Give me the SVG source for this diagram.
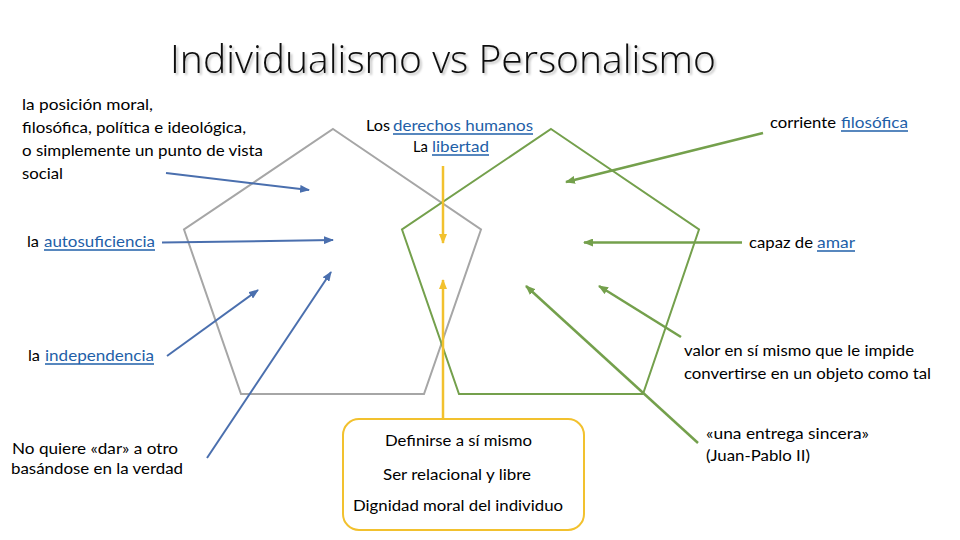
<svg xmlns="http://www.w3.org/2000/svg" width="960" height="540" viewBox="0 0 960 540">
<style>
  .t { font-family: Lato, "Liberation Sans", sans-serif; font-size: 15px; fill: #000; }
  .lk { fill: #1f5fa8; }
  .ul { stroke: #1f5fa8; stroke-width: 1.3; }
  .title { font-family: "Open Sans", "Liberation Sans", sans-serif; font-weight: 300; font-size: 38px; fill: #111; }
  .gray { fill: none; stroke: #a6a6a6; stroke-width: 2; stroke-linejoin: miter; }
  .green { fill: none; stroke: #74a04c; stroke-width: 2; }
  .ab { stroke: #4a6fae; stroke-width: 2; fill: none; marker-end: url(#mb); }
  .ag { stroke: #74a04c; stroke-width: 2.5; fill: none; marker-end: url(#mg); }
  .ay { stroke: #f2c12e; stroke-width: 2.5; fill: none; marker-end: url(#my); }
</style>
<defs>
  <marker id="mb" markerUnits="userSpaceOnUse" markerWidth="10" markerHeight="8" refX="9" refY="4" orient="auto"><path d="M0,0 L10,4 L0,8 z" fill="#4a6fae"/></marker>
  <marker id="mg" markerUnits="userSpaceOnUse" markerWidth="10" markerHeight="8" refX="9" refY="4" orient="auto"><path d="M0,0 L10,4 L0,8 z" fill="#74a04c"/></marker>
  <marker id="my" markerUnits="userSpaceOnUse" markerWidth="10" markerHeight="8" refX="9" refY="4" orient="auto"><path d="M0,0 L10,4 L0,8 z" fill="#f2c12e"/></marker>
  <filter id="sh" x="-5%" y="-20%" width="110%" height="150%"><feDropShadow dx="2" dy="2" stdDeviation="1" flood-color="#000" flood-opacity="0.25"/></filter>
</defs>
<rect width="960" height="540" fill="#fff"/>

<g id="title"><text class="title" x="170" y="73" textLength="546" lengthAdjust="spacingAndGlyphs" filter="url(#sh)">Individualismo vs Personalismo</text></g>

<g id="pentagon-individualismo"><polygon class="gray" points="333,129 481,229.5 424,394 241,394 184,229.5"/></g>
<g id="pentagon-personalismo"><polygon class="green" points="551,129 699,229.5 643,394 459,394 402,229.5"/></g>

<g id="box-personalismo">
  <rect x="343" y="419" width="241" height="111" rx="16" ry="16" fill="none" stroke="#f2c12e" stroke-width="2"/>
  <text class="t" x="385" y="446" textLength="147" lengthAdjust="spacingAndGlyphs">Definirse a sí mismo</text>
  <text class="t" x="383" y="480" textLength="148" lengthAdjust="spacingAndGlyphs">Ser relacional y libre</text>
  <text class="t" x="353" y="511" textLength="210" lengthAdjust="spacingAndGlyphs">Dignidad moral del individuo</text>
</g>

<g id="label-posicion">
  <text class="t" x="22" y="110" textLength="131" lengthAdjust="spacingAndGlyphs">la posición moral,</text>
  <text class="t" x="22" y="133" textLength="224" lengthAdjust="spacingAndGlyphs">filosófica, política e ideológica,</text>
  <text class="t" x="22" y="156" textLength="241" lengthAdjust="spacingAndGlyphs">o simplemente un punto de vista</text>
  <text class="t" x="22" y="179" textLength="41" lengthAdjust="spacingAndGlyphs">social</text>
</g>
<g id="label-autosuficiencia">
  <text class="t" x="27" y="247" textLength="12" lengthAdjust="spacingAndGlyphs">la</text>
  <text class="t lk" x="44" y="247" textLength="111" lengthAdjust="spacingAndGlyphs">autosuficiencia</text>
  <line class="ul" x1="44" y1="250" x2="155" y2="250"/>
</g>
<g id="label-independencia">
  <text class="t" x="28" y="361" textLength="12" lengthAdjust="spacingAndGlyphs">la</text>
  <text class="t lk" x="45" y="361" textLength="109" lengthAdjust="spacingAndGlyphs">independencia</text>
  <line class="ul" x1="45" y1="364" x2="154" y2="364"/>
</g>
<g id="label-noquiere">
  <text class="t" x="12" y="454" textLength="166" lengthAdjust="spacingAndGlyphs">No quiere «dar» a otro</text>
  <text class="t" x="11" y="474" textLength="172" lengthAdjust="spacingAndGlyphs">basándose en la verdad</text>
</g>
<g id="label-derechos">
  <text class="t" x="366" y="131" textLength="24" lengthAdjust="spacingAndGlyphs">Los</text>
  <text class="t lk" x="393" y="131" textLength="140" lengthAdjust="spacingAndGlyphs">derechos humanos</text>
  <line class="ul" x1="393" y1="134" x2="533" y2="134"/>
  <text class="t" x="413" y="152" textLength="15" lengthAdjust="spacingAndGlyphs">La</text>
  <text class="t lk" x="432" y="152" textLength="57" lengthAdjust="spacingAndGlyphs">libertad</text>
  <line class="ul" x1="432" y1="155" x2="489" y2="155"/>
</g>
<g id="label-corriente">
  <text class="t" x="770" y="128" textLength="66" lengthAdjust="spacingAndGlyphs">corriente</text>
  <text class="t lk" x="841" y="128" textLength="67" lengthAdjust="spacingAndGlyphs">filosófica</text>
  <line class="ul" x1="841" y1="131" x2="908" y2="131"/>
</g>
<g id="label-capaz">
  <text class="t" x="749" y="248" textLength="64" lengthAdjust="spacingAndGlyphs">capaz de</text>
  <text class="t lk" x="817" y="248" textLength="38" lengthAdjust="spacingAndGlyphs">amar</text>
  <line class="ul" x1="817" y1="251" x2="855" y2="251"/>
</g>
<g id="label-valor">
  <text class="t" x="684" y="356" textLength="230" lengthAdjust="spacingAndGlyphs">valor en sí mismo que le impide</text>
  <text class="t" x="684" y="379" textLength="247" lengthAdjust="spacingAndGlyphs">convertirse en un objeto como tal</text>
</g>
<g id="label-entrega">
  <text class="t" x="706" y="439" textLength="163" lengthAdjust="spacingAndGlyphs">«una entrega sincera»</text>
  <text class="t" x="706" y="461" textLength="104" lengthAdjust="spacingAndGlyphs">(Juan-Pablo II)</text>
</g>

<g id="connectors">
  <line class="ab" x1="166" y1="173" x2="309" y2="190"/>
  <line class="ab" x1="162" y1="242.5" x2="333" y2="240"/>
  <line class="ab" x1="167" y1="356" x2="258" y2="290"/>
  <line class="ab" x1="207" y1="458" x2="331" y2="272"/>
  <line class="ay" x1="443" y1="166" x2="443" y2="243"/>
  <line class="ay" x1="443" y1="419" x2="443" y2="280"/>
  <line class="ag" x1="763" y1="133" x2="566" y2="182"/>
  <line class="ag" x1="742" y1="242.5" x2="584" y2="242.5"/>
  <line class="ag" x1="681" y1="337" x2="599" y2="286"/>
  <line class="ag" x1="698" y1="443" x2="526" y2="286"/>
</g>
</svg>
